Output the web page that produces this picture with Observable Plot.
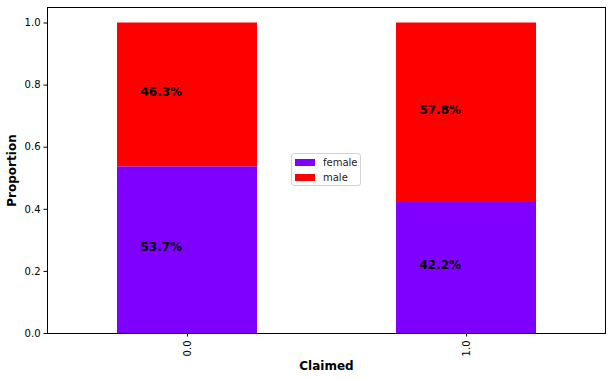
<!DOCTYPE html>
<html><head><meta charset="utf-8">
<script src="https://cdn.jsdelivr.net/npm/d3@7"></script>
<script src="https://cdn.jsdelivr.net/npm/@observablehq/plot@0.6"></script>
<style>
body{margin:0;background:#fff;}
#wrap{position:relative;width:612px;height:380px;font-family:"DejaVu Sans",sans-serif;}
.legend{position:absolute;left:291px;top:153px;width:68px;height:31px;border:1px solid #d3d3d3;border-radius:3px;background:#fff;font-size:10px;color:#222;}
.legend .row{position:absolute;left:3px;height:12px;line-height:12px;white-space:nowrap;}
.legend .sw{display:inline-block;width:20px;height:7px;vertical-align:middle;margin-right:8px;position:relative;top:-1px;}
</style></head>
<body><div id="wrap"></div>
<script>
const claimed = ["0.0", "1.0"];
const sexes = ["female", "male"];
const female = [0.537, 0.422];
const male = [0.463, 0.578];
const colors = ["#8000ff", "#ff0000"];
const yTicks = [0, 0.2, 0.4, 0.6, 0.8, 1.0];

const data = [];
sexes.forEach((s, si) => {
  const vals = si === 0 ? female : male;
  claimed.forEach((c, i) => data.push({claimed: c, sex: s, value: vals[i]}));
});

const chart = Plot.plot({
  width: 612,
  height: 380,
  marginLeft: 47,
  marginRight: 7,
  marginTop: 7,
  marginBottom: 47,
  style: {fontFamily: "DejaVu Sans, sans-serif", fontSize: "10px", color: "#000", background: "#fff"},
  x: {domain: claimed, paddingInner: 0.5, paddingOuter: 0.25, label: null},
  y: {domain: [0, 1.05], label: null},
  color: {domain: sexes, range: colors},
  marks: [
    Plot.barY(data, Plot.stackY({x: "claimed", y: "value", z: "sex", fill: "sex", order: sexes})),
    Plot.text(data, Plot.stackY({x: "claimed", y: "value", z: "sex", order: sexes,
      text: d => (d.value * 100).toFixed(1) + "%", textAnchor: "start", dx: -47, dy: -3,
      fontWeight: "bold", fontSize: 12, fill: "#000"})),
    Plot.frame({stroke: "#000", strokeWidth: 1}),
    Plot.axisY({ticks: yTicks, tickFormat: d3.format(".1f"), tickSize: 3.5, tickPadding: 3.5,
      label: "Proportion", labelAnchor: "center", labelOffset: 40, labelArrow: "none"}),
    Plot.axisX({tickSize: 3.5, tickRotate: -90, tickPadding: 3.5,
      label: "Claimed", labelAnchor: "center", labelOffset: 36, labelArrow: "none"})
  ]
});
const wrap = document.getElementById("wrap");
wrap.appendChild(chart);
chart.querySelectorAll("[aria-label='y-axis label'] text, [aria-label='x-axis label'] text, g[aria-label$='axis label']").forEach(el => {
  el.setAttribute("font-weight", "bold");
  el.setAttribute("font-size", "12");
});

const lg = document.createElement("div");
lg.className = "legend";
sexes.forEach((s, i) => {
  const r = document.createElement("div");
  r.className = "row";
  r.style.top = (3 + i * 15) + "px";
  r.innerHTML = `<span class="sw" style="background:${colors[i]}"></span>${s}`;
  lg.appendChild(r);
});
wrap.appendChild(lg);
</script></body></html>
